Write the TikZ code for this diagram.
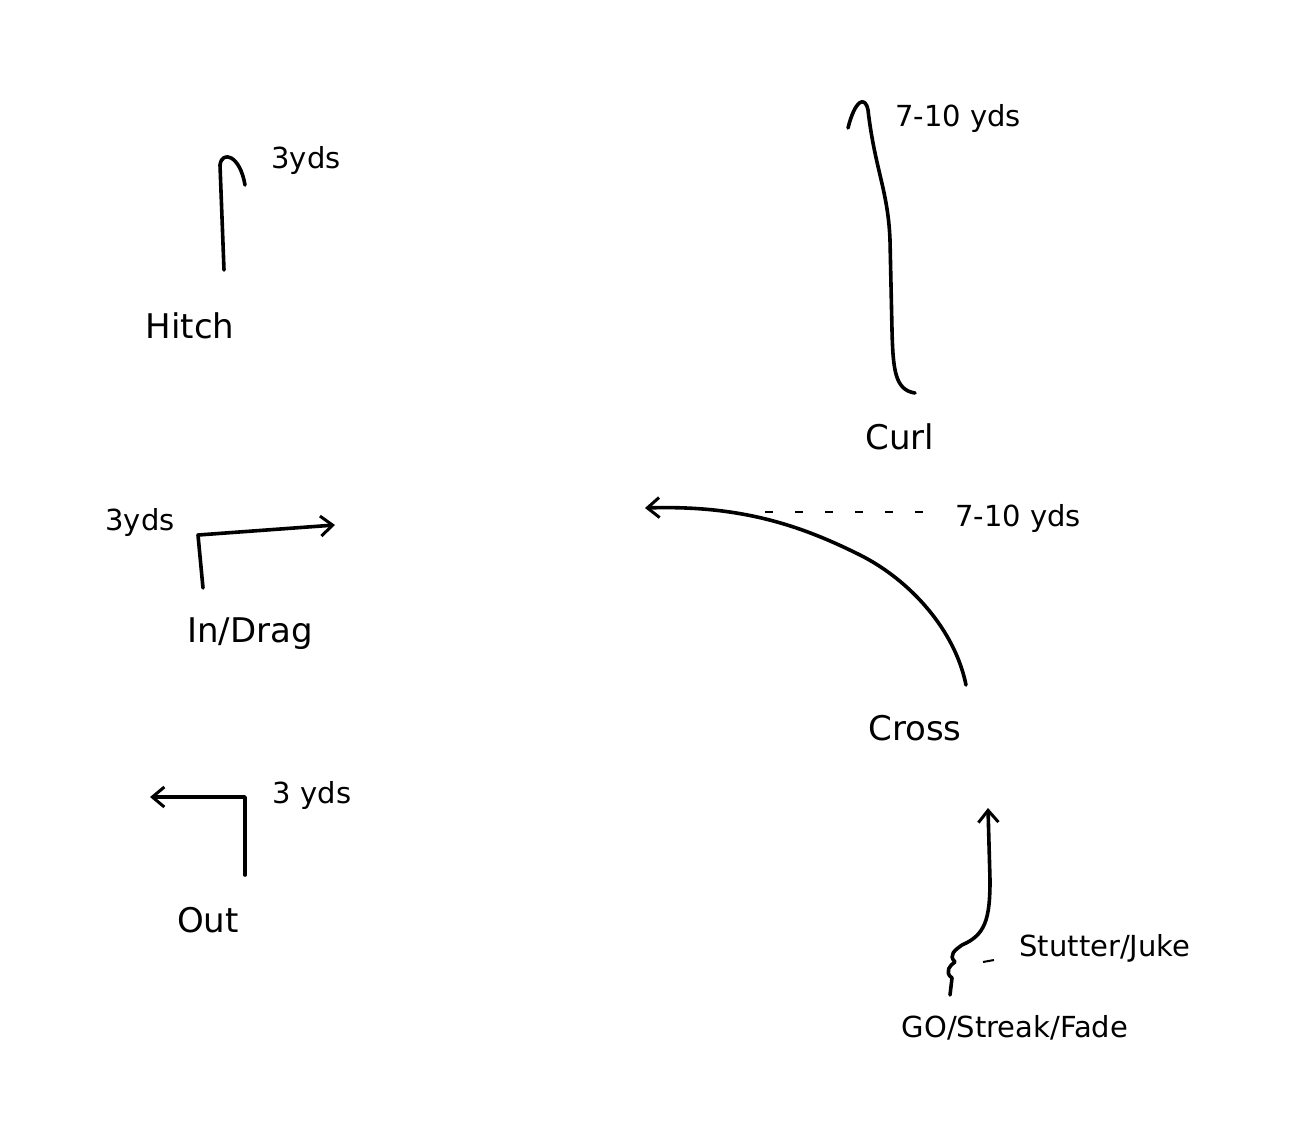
\documentclass[tikz,border=0pt]{standalone}
\usepackage{fontspec}
\setmainfont{DejaVu Sans}
\usetikzlibrary{arrows.meta}
\begin{document}
\begin{tikzpicture}[x=1pt,y=-1pt,
  route/.style={line width=3.6pt,line cap=round,line join=round,black},
  arr/.style={route,-{Straight Barb[length=12pt,width=20pt,line width=3pt]}},
  lbl/.style={font=\fontsize{34}{40}\selectfont,inner sep=0pt},
  small/.style={font=\fontsize{29}{34}\selectfont,inner sep=0pt}]
\useasboundingbox (0,0) rectangle (1302,1144);
% Hitch
\coordinate (h0) at (224,270);
\draw[route] (h0) -- (220,165) .. controls (222,150) and (240,155) .. (245,185);
\node[small] (h3) at (306,160) {3yds};
\node[lbl] (hitch) at (190,326) {Hitch};
% Curl
\draw[route] (915,393) .. controls (895,390) and (893,370) .. (892,330) -- (890,240) .. controls (888,190) and (875,170) .. (868,110) .. controls (865,95) and (855,100) .. (848,128);
\node[small] (c7) at (958,118) {7-10 yds};
\node[lbl] (curl) at (900,437) {Curl};
% In/Drag
\draw[arr] (203,588) -- (198,535) -- (335,525);
\node[small] (i3) at (140,522) {3yds};
\node[lbl] (drag) at (250,634) {In/Drag};
% Cross
\draw[arr] (966,685) .. controls (955,630) and (910,580) .. (860,555) .. controls (800,525) and (740,505) .. (645,508);
\draw[line width=1.5pt,dash pattern=on 8pt off 22pt] (765,512) -- (925,512);
\node[small] (x7) at (1018,518) {7-10 yds};
\node[lbl] (cross) at (915,728) {Cross};
% Out
\draw[arr] (245,875) -- (245,797) -- (150,797);
\node[small] (o3) at (312,795) {3 yds};
\node[lbl] (out) at (208,920) {Out};
% Go
\draw[arr] (950,995) -- (952,978) .. controls (944,972) and (950,965) .. (955,962) .. controls (948,955) and (955,950) .. (962,945) .. controls (985,935) and (990,920) .. (990,880) -- (988,808);
\draw[line width=2pt] (983,962) -- (994,960);
\node[small] (sj) at (1105,948) {Stutter/Juke};
\node[small] (go) at (1015,1028) {GO/Streak/Fade};
\end{tikzpicture}
\end{document}
